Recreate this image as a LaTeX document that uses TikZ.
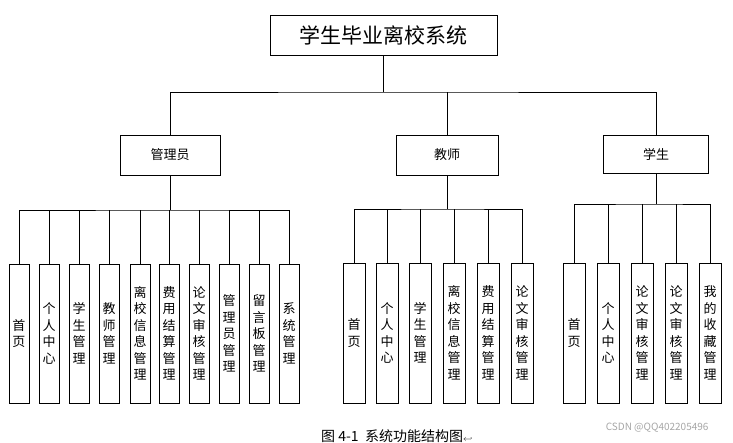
\documentclass[tikz,border=0pt]{standalone}
\usepackage{fontspec}
\setmainfont{Noto Sans CJK SC}
\begin{document}
\begin{tikzpicture}[x=1pt,y=-1pt,
  box/.style={draw,thick,inner sep=0pt},
  leaf/.style={draw,thick,minimum width=22pt,minimum height=140pt,inner sep=0pt,align=center,font=\fontsize{13}{16.5}\selectfont},
  ln/.style={thick}]
\useasboundingbox (0,0) rectangle (733,442);
\node[box,minimum width=227pt,minimum height=40pt,font=\fontsize{21}{24}\selectfont] (root) at (383.5,35) {学生毕业离校系统};
\node[box,minimum width=100pt,minimum height=40pt,font=\fontsize{13}{16}\selectfont] (a) at (170,155) {管理员};
\node[box,minimum width=102pt,minimum height=40pt,font=\fontsize{13}{16}\selectfont] (t) at (447,155) {教师};
\node[box,minimum width=105pt,minimum height=38pt,font=\fontsize{13}{16}\selectfont] (s) at (656,154) {学生};
\coordinate (r1) at (383.5,92);
\draw[ln] (root.south) -- (r1);
\draw[ln] (a.north) |- (r1) -| (s.north);
\draw[ln] (t.north) -- (t.north |- r1);
% admin leaves
\foreach \i/\x/\t in {1/19/{首\\页},2/49/{个\\人\\中\\心},3/79/{学\\生\\管\\理},4/109/{教\\师\\管\\理},5/140/{离\\校\\信\\息\\管\\理},6/169/{费\\用\\结\\算\\管\\理},7/199/{论\\文\\审\\核\\管\\理},8/229/{管\\理\\员\\管\\理},9/259/{留\\言\\板\\管\\理},10/289/{系\\统\\管\\理}}{
  \node[leaf,minimum width=20pt,minimum height=139pt] (a\i) at (\x,333.5) {\t};
}
\coordinate (ab) at (170,210);
\draw[ln] (a.south) -- (ab);
\draw[ln] (a1.north) |- (ab) -| (a10.north);
\foreach \i in {2,...,9}{\draw[ln] (a\i.north) -- (a\i.north |- ab);}
% teacher leaves
\foreach \i/\x/\t in {1/354/{首\\页},2/387/{个\\人\\中\\心},3/420/{学\\生\\管\\理},4/454/{离\\校\\信\\息\\管\\理},5/488/{费\\用\\结\\算\\管\\理},6/522/{论\\文\\审\\核\\管\\理}}{
  \node[leaf] (t\i) at (\x,333) {\t};
}
\coordinate (tb) at (447,209);
\draw[ln] (t.south) -- (tb);
\draw[ln] (t1.north) |- (tb) -| (t6.north);
\foreach \i in {2,...,5}{\draw[ln] (t\i.north) -- (t\i.north |- tb);}
% student leaves
\foreach \i/\x/\t in {1/574/{首\\页},2/608/{个\\人\\中\\心},3/642/{论\\文\\审\\核\\管\\理},4/676/{论\\文\\审\\核\\管\\理},5/710/{我\\的\\收\\藏\\管\\理}}{
  \node[leaf] (s\i) at (\x,333) {\t};
}
\coordinate (sb) at (656,204);
\draw[ln] (s.south) -- (sb);
\draw[ln] (s1.north) |- (sb) -| (s5.north);
\foreach \i in {2,...,4}{\draw[ln] (s\i.north) -- (s\i.north |- sb);}
\node[font=\fontsize{14}{16}\selectfont,anchor=west,inner sep=0pt] (cap) at (321,436) {图 4-1\ \ 系统功能结构图{\fontsize{8}{8}\selectfont$\hookleftarrow$}};
\node[font=\fontsize{10}{12}\selectfont,text=gray!70,anchor=east] (wm) at (712,428) {CSDN @QQ402205496};
\end{tikzpicture}
\end{document}
